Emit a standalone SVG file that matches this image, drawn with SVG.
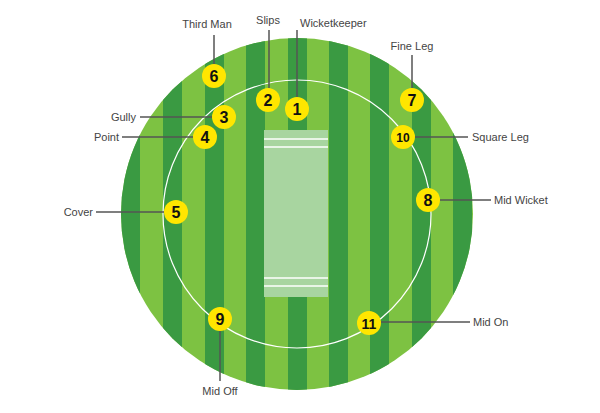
<svg xmlns="http://www.w3.org/2000/svg" width="600" height="413" viewBox="0 0 600 413">
<style>
.lbl{font-family:"Liberation Sans",Arial,sans-serif;font-size:11px;fill:#444}
.num{font-family:"Liberation Sans",Arial,sans-serif;font-size:16px;font-weight:bold;fill:#111;text-anchor:middle}
.f{fill:#ffe600}
.ln{stroke:#555;stroke-width:1.5;fill:none}
.dk{fill:#3a9a42}
</style>
<defs><clipPath id="c"><circle cx="297" cy="214" r="176"/></clipPath></defs>
<rect width="600" height="413" fill="#fff"/>
<g id="field">
<circle cx="297" cy="214" r="176" fill="#7dc242"/>
<g clip-path="url(#c)">
<rect class="dk" x="121" y="30" width="19" height="370"/>
<rect class="dk" x="163" y="30" width="19" height="370"/>
<rect class="dk" x="205" y="30" width="19" height="370"/>
<rect class="dk" x="246" y="30" width="19" height="370"/>
<rect class="dk" x="288" y="30" width="19" height="370"/>
<rect class="dk" x="329" y="30" width="19" height="370"/>
<rect class="dk" x="370" y="30" width="19" height="370"/>
<rect class="dk" x="412" y="30" width="19" height="370"/>
<rect class="dk" x="453" y="30" width="19" height="370"/>
</g>
<circle cx="297" cy="214" r="134" fill="none" stroke="#fff" stroke-width="1.2"/>
<rect x="264" y="130" width="64" height="167" fill="#a8d5a0"/>
<g stroke="#fff" stroke-width="1.5"><line x1="264" y1="139" x2="328" y2="139"/><line x1="264" y1="147" x2="328" y2="147"/><line x1="264" y1="278" x2="328" y2="278"/><line x1="264" y1="286" x2="328" y2="286"/></g>
</g>
<g id="connectors">
<path class="ln" d="M297 97V30"/>
<path class="ln" d="M269 88V30"/>
<path class="ln" d="M214 64V35"/>
<path class="ln" d="M212 117H140"/>
<path class="ln" d="M193 137H122"/>
<path class="ln" d="M164 212H96"/>
<path class="ln" d="M412 88V55"/>
<path class="ln" d="M415 137H468"/>
<path class="ln" d="M440 200H491"/>
<path class="ln" d="M381 322H470"/>
<path class="ln" d="M220 331V381"/>
</g>
<g id="f1"><circle class="f" cx="297" cy="109" r="12"/><text class="num" x="297" y="115">1</text><text class="lbl" x="300" y="27">Wicketkeeper</text></g>
<g id="f2"><circle class="f" cx="268" cy="100" r="12"/><text class="num" x="268" y="106">2</text><text class="lbl" x="268" y="24" text-anchor="middle">Slips</text></g>
<g id="f3"><circle class="f" cx="224" cy="117" r="12"/><text class="num" x="224" y="123">3</text><text class="lbl" x="136" y="121" text-anchor="end">Gully</text></g>
<g id="f4"><circle class="f" cx="205" cy="137" r="12"/><text class="num" x="205" y="143">4</text><text class="lbl" x="119" y="141" text-anchor="end">Point</text></g>
<g id="f5"><circle class="f" cx="176" cy="212" r="12"/><text class="num" x="176" y="218">5</text><text class="lbl" x="93" y="216" text-anchor="end">Cover</text></g>
<g id="f6"><circle class="f" cx="214" cy="76" r="12"/><text class="num" x="214" y="82">6</text><text class="lbl" x="207" y="28" text-anchor="middle">Third Man</text></g>
<g id="f7"><circle class="f" cx="412" cy="100" r="12"/><text class="num" x="412" y="106">7</text><text class="lbl" x="412" y="50" text-anchor="middle">Fine Leg</text></g>
<g id="f8"><circle class="f" cx="428" cy="200" r="12"/><text class="num" x="428" y="206">8</text><text class="lbl" x="494" y="204">Mid Wicket</text></g>
<g id="f9"><circle class="f" cx="220" cy="319" r="12"/><text class="num" x="220" y="325">9</text><text class="lbl" x="220" y="395" text-anchor="middle">Mid Off</text></g>
<g id="f10"><circle class="f" cx="403" cy="137" r="12"/><text class="num" x="403" y="142" style="font-size:12px">10</text><text class="lbl" x="472" y="141">Square Leg</text></g>
<g id="f11"><circle class="f" cx="369" cy="323" r="12"/><text class="num" x="369" y="329" style="font-size:14px">11</text><text class="lbl" x="473" y="326">Mid On</text></g>
</svg>
